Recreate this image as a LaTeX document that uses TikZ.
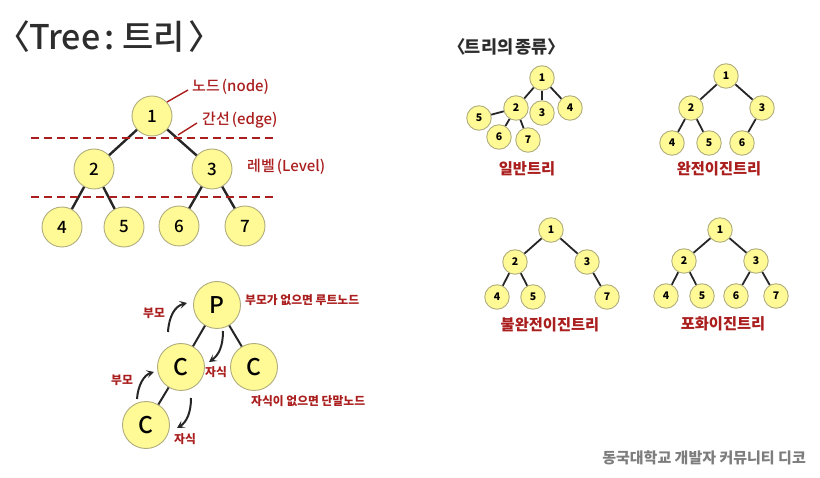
\documentclass[tikz,border=0pt]{standalone}
\usepackage{fontspec}
\setmainfont{Noto Sans CJK KR}
\newfontfamily\midfont[RawFeature=+palt,WordSpace=.6]{Noto Sans CJK KR Medium}
\usepackage{tikz}
\usetikzlibrary{arrows.meta,positioning,calc}
\definecolor{nodeyellow}{RGB}{255,250,150}
\definecolor{noderim}{RGB}{175,172,125}
\definecolor{labelred}{RGB}{170,30,30}
\definecolor{titlegray}{RGB}{45,45,45}
\definecolor{footgray}{RGB}{125,125,125}
\tikzset{
	bignode/.style={circle, draw=noderim, line width=.9pt, fill=nodeyellow, minimum size=40pt, inner sep=0pt, font=\midfont\fontsize{17}{17}\selectfont},
	famnode/.style={bignode, minimum size=47pt, font=\midfont\fontsize{23}{23}\selectfont},
	smallnode/.style={bignode, minimum size=24.5pt, font=\fontsize{10.5}{11}\selectfont\bfseries},
	bigedge/.style={line width=2.4pt, black!85},
	famedge/.style={line width=2pt, black!85},
	smalledge/.style={line width=1.8pt, black!85},
	redlabel/.style={text=labelred, inner sep=0pt, font=\midfont\fontsize{15}{15}\selectfont},
	minilabel/.style={text=labelred, inner sep=0pt, font=\fontsize{11.8}{12}\selectfont\bfseries},
	kindlabel/.style={text=labelred, inner sep=0pt, font=\fontsize{15.3}{15}\selectfont\bfseries},
	redline/.style={labelred, line width=1.4pt},
	leveldash/.style={labelred, line width=1.4pt, dash pattern=on 7.5pt off 5.5pt},
	bendarrow/.style={-{Stealth[length=7.5pt,width=8pt,inset=3.5pt]}, line width=2pt, black!85}
}
\begin{document}
\begin{tikzpicture}[x=1pt, y=-1pt]
	\useasboundingbox (0,0) rectangle (820,478);
	\node[inner sep=0pt, anchor=west, text=titlegray, font=\midfont\fontsize{34}{34}\selectfont] (title) at (12,37) {〈Tree : 트리 〉};
	\node[inner sep=0pt, anchor=west, text=titlegray, font=\midfont\bfseries\fontsize{17.5}{17}\selectfont] (kinds) at (456,47) {〈트리의 종류〉};

	% Arbol principal
	\foreach \n/\x/\y in {1/152/116,2/94/169,3/212/169,4/62/227,5/124/227,6/179/226,7/245/226}
		\node[bignode] (m\n) at (\x,\y) {\n};
	\foreach \a/\b in {1/2,1/3,2/4,2/5,3/6,3/7}
		\draw[bigedge] (m\a) -- (m\b);

	\foreach \y/\s in {138/a,197/b}
	{
		\coordinate (dash\s l) at (31,\y);
		\coordinate (dash\s r) at (278,\y);
		\draw[leveldash] (dash\s l) -- (dash\s r);
	}
	\node[redlabel, anchor=west] (lnode) at (192,87) {노드 (node)};
	\node[redlabel, anchor=west] (ledge) at (202,120) {간선 (edge)};
	\node[redlabel, anchor=west] (llevel) at (247,167) {레벨 (Level)};
	\coordinate (pnode) at (167,102);
	\coordinate (qnode) at (188,90);
	\coordinate (pedge) at (178,135);
	\coordinate (qedge) at (197,123);
	\draw[redline] (pnode) -- (qnode);
	\draw[redline] (pedge) -- (qedge);

	% Padre e hijos
	\node[famnode] (p) at (217,305) {P};
	\node[famnode] (c1) at (181,367) {C};
	\node[famnode] (c2) at (254,367) {C};
	\node[famnode] (c3) at (146,425) {C};
	\draw[famedge] (p) -- (c1);
	\draw[famedge] (p) -- (c2);
	\draw[famedge] (c1) -- (c3);

	\coordinate (up1s) at (168,332);
	\coordinate (up1e) at (187,303);
	\coordinate (up2s) at (137,399);
	\coordinate (up2e) at (154,372);
	\coordinate (dn1s) at (223,331);
	\coordinate (dn1e) at (209,362);
	\coordinate (dn2s) at (191,398);
	\coordinate (dn2e) at (177,428);
	\draw[bendarrow] (up1s) .. controls (169,316) and (175,306) .. (up1e);
	\draw[bendarrow] (up2s) .. controls (138,385) and (144,375) .. (up2e);
	\draw[bendarrow] (dn1s) .. controls (223,346) and (219,355) .. (dn1e);
	\draw[bendarrow] (dn2s) .. controls (191,412) and (187,422) .. (dn2e);

	\node[minilabel] (par1) at (154,313) {부모};
	\node[minilabel] (par2) at (122,380) {부모};
	\node[minilabel] (chi1) at (216,372) {자식};
	\node[minilabel] (chi2) at (185,439) {자식};
	\node[minilabel, anchor=west] (root) at (245,300) {부모가 없으면 루트노드};
	\node[minilabel, anchor=west] (leaf) at (251,401) {자식이 없으면 단말노드};

	% Tipos de arbol
	\foreach \n/\x/\y in {1/542/78,2/516/108,3/542/113,4/570/108,5/479/118,6/499/137,7/528/140}
		\node[smallnode] (a\n) at (\x,\y) {\n};
	\foreach \a/\b in {1/2,1/3,1/4,2/5,2/6,2/7}
		\draw[smalledge] (a\a) -- (a\b);
	\node[kindlabel] (akind) at (527,169) {일반트리};

	\foreach \n/\x/\y in {1/726/76,2/691/108,3/762/108,4/672/143,5/709/143,6/742/143}
		\node[smallnode] (b\n) at (\x,\y) {\n};
	\foreach \a/\b in {1/2,1/3,2/4,2/5,3/6}
		\draw[smalledge] (b\a) -- (b\b);
	\node[kindlabel] (bkind) at (719,169) {완전이진트리};

	\foreach \n/\x/\y in {1/551/230,2/515/262,3/587/262,4/497/297,5/533/297,7/607/297}
		\node[smallnode] (c\n) at (\x,\y) {\n};
	\foreach \a/\b in {1/2,1/3,2/4,2/5,3/7}
		\draw[smalledge] (c\a) -- (c\b);
	\node[kindlabel] (ckind) at (550,325) {불완전이진트리};

	\foreach \n/\x/\y in {1/720/230,2/684/261,3/756/261,4/666/296,5/702/296,6/736/296,7/776/296}
		\node[smallnode] (d\n) at (\x,\y) {\n};
	\foreach \a/\b in {1/2,1/3,2/4,2/5,3/6,3/7}
		\draw[smalledge] (d\a) -- (d\b);
	\node[kindlabel] (dkind) at (723,324) {포화이진트리};

	\node[inner sep=0pt, text=footgray, anchor=east, font=\fontsize{15}{15}\selectfont\bfseries] (foot) at (806,458) {동국대학교 개발자 커뮤니티 디코};
\end{tikzpicture}
\end{document}
